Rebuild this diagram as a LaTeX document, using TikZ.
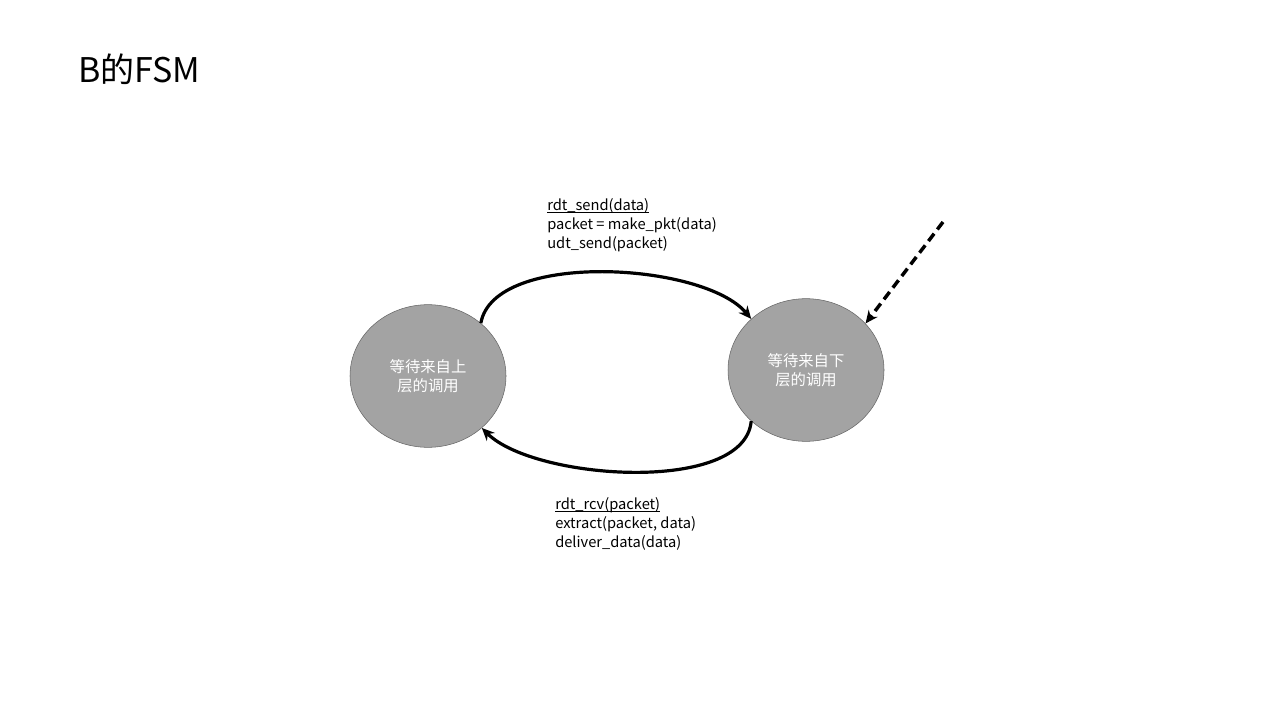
\documentclass[tikz,border=0pt]{standalone}
\usepackage{fontspec}
\setmainfont{Noto Sans CJK SC}
\usetikzlibrary{arrows.meta,shapes.geometric}

% underline close to the baseline (the CJK font puts \underline too low)
\newcommand{\trigger}[1]{\setbox0\hbox{#1}\rlap{\rule[-1.6pt]{\wd0}{0.55pt}}\box0}

\begin{document}
\begin{tikzpicture}
      [x=0.75pt, y=-0.75pt,
        >={Stealth[length=9.5pt,width=8.5pt]},
        line/.style={draw, line width=2.4pt, ->},
        dashline/.style={draw, line width=2.6pt, ->, dash pattern=on 7pt off 4pt},
        state/.style={
          ellipse,
          draw=gray!80!black, thin,
          fill=black!36,
          text=white,
          align=center,
          font=\fontsize{11.5}{14.5}\selectfont,
          minimum width=117pt,
          minimum height=107pt,
          inner sep=0pt
        },
        action/.style={
          align=left,
          anchor=north west,
          inner sep=0pt,
          font=\fontsize{11}{14.25}\selectfont
        }]
      \useasboundingbox (0,0) rectangle (1280,720);

      \node[anchor=west, inner sep=0pt, font=\fontsize{25.5}{30}\selectfont] (title) at (78,69) {B的FSM};

      \node[state] (waitup) at (428,376) {等待来自上\\层的调用};
      \node[state] (waitdown) at (806,370) {等待来自下\\层的调用};

      \draw[line] (waitup.45) to[out=80, in=130, looseness=0.7] (waitdown.137);
      \draw[line] (waitdown.223) to[out=-95, in=-45, looseness=0.7] (waitup.-44);

      \coordinate (init) at (943,222);
      \draw[dashline] (init) -- (waitdown.38);

      \node[action] (sendlabel) at (547,198) {\trigger{rdt\_send(data)}\\packet = make\_pkt(data)\\udt\_send(packet)};
      \node[action] (rcvlabel) at (555,497) {\trigger{rdt\_rcv(packet)}\\extract(packet, data)\\deliver\_data(data)};
    \end{tikzpicture}
\end{document}
